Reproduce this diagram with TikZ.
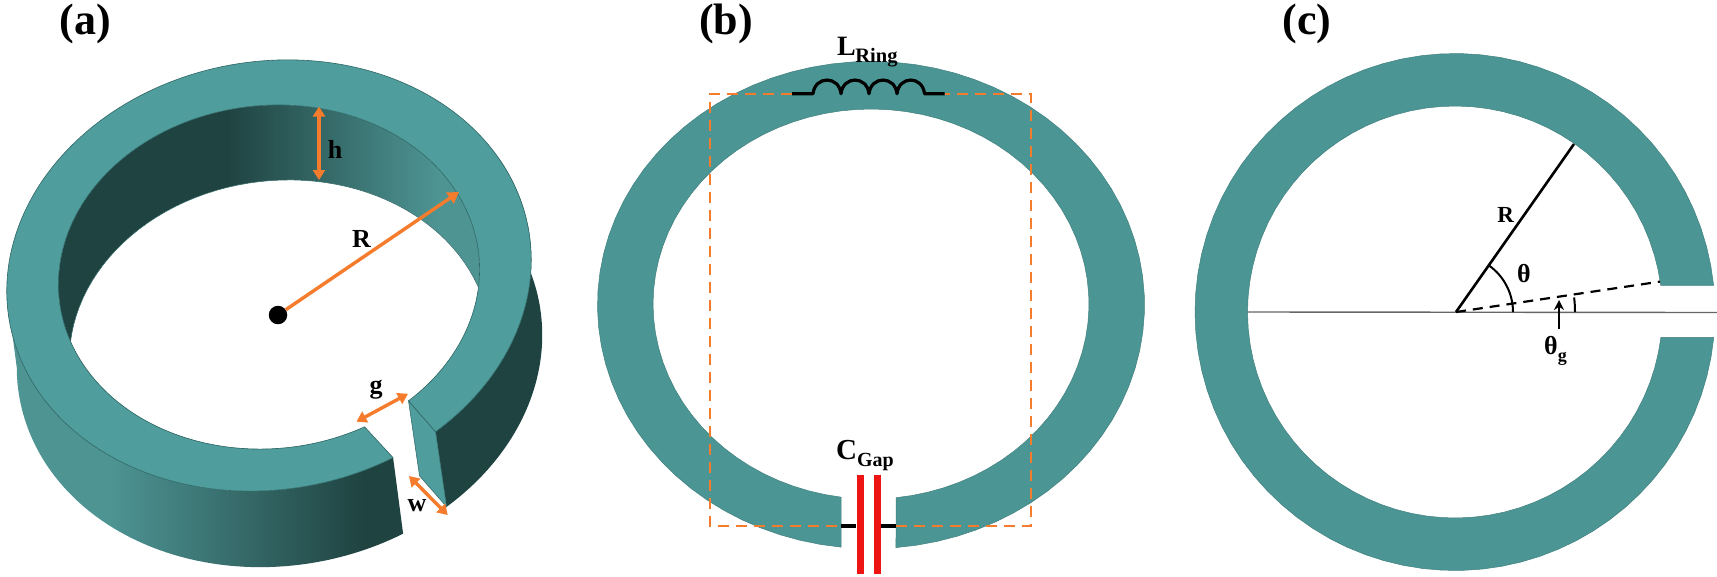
\documentclass[tikz,border=0pt]{standalone}
\usepackage{fontspec}
\setmainfont{Liberation Serif}
\usetikzlibrary{arrows.meta}
\definecolor{teal1}{HTML}{4B9694}
\definecolor{teal2}{HTML}{4F9D9D}
\definecolor{tealedge}{HTML}{2F6665}
\definecolor{walld}{HTML}{1F4341}
\definecolor{walll}{HTML}{4D9493}
\definecolor{orng}{HTML}{F47C2C}
\definecolor{redp}{HTML}{EE1414}
\pgfdeclarehorizontalshading{frontwall}{100bp}{color(0bp)=(walll); color(38bp)=(walll); color(70bp)=(walld); color(100bp)=(walld)}
\pgfdeclarehorizontalshading{backwall}{100bp}{color(0bp)=(walld); color(45bp)=(walld); color(70bp)=(walll); color(100bp)=(walll)}
\tikzset{
  panel/.style={font=\bfseries\fontsize{44}{44}\selectfont,inner sep=0pt},
  lab/.style={font=\bfseries\fontsize{26}{26}\selectfont,inner sep=0pt,text=black},
  labs/.style={font=\bfseries\fontsize{23}{23}\selectfont,inner sep=0pt,text=black},
  ringfill/.style={fill=teal1,draw=teal1!85!black,line width=0.5pt,line join=round},
  dim/.style={draw=orng,line width=3.4pt,{Triangle[length=10pt,width=12pt]}-{Triangle[length=10pt,width=12pt]}},
  wire/.style={draw=black,line width=3.2pt},
  dashbox/.style={draw=orng,line width=2.4pt,dash pattern=on 11pt off 7pt},
  plate/.style={fill=redp,draw=none,minimum width=7pt,minimum height=99pt,inner sep=0pt},
  facet/.style={samples=81,variable=\x}
}
\begin{document}
\begin{tikzpicture}[x=1pt,y=-1pt,
  declare function={
    oX(\t)=269+263.6*cos(\t)*cos(10)+214*sin(\t)*sin(10);
    oY(\t)=275.5-263.6*cos(\t)*sin(10)+214*sin(\t)*cos(10);
    iX(\t)=269+211*cos(\t)*cos(6)+171.6*sin(\t)*sin(6);
    iY(\t)=277-211*cos(\t)*sin(6)+171.6*sin(\t)*cos(6);
    bOX(\t)=871+273.5*cos(\t); bOY(\t)=305+243.6*sin(\t);
    bIX(\t)=871+218*cos(\t);   bIY(\t)=304+195*sin(\t);
    cOX(\t)=1455+260*cos(\t);  cOY(\t)=312+258.5*sin(\t);
    cIX(\t)=1455+207.5*cos(\t); cIY(\t)=312+206*sin(\t);
  }]
\useasboundingbox (0,0) rectangle (1717,576);
\fill[white] (0,0) rectangle (1717,576);

%% ---------- (a)
\node[panel] (pa) at (85,24) {(a)};
% inner back wall
\path[shade,shading=backwall] plot[samples=120,domain=0:360,variable=\x] ({iX(\x)},{iY(\x)}) -- cycle;
\begin{scope}
  \clip plot[samples=120,domain=0:360,variable=\x] ({iX(\x)},{iY(\x)}) -- cycle;
  \fill[white,draw=tealedge,line width=0.5pt] plot[samples=120,domain=0:360,variable=\x] ({iX(\x)+11},{iY(\x)+75}) -- cycle;
\end{scope}
% clean the hairline left along the hidden part of the inner edge, across the gap
\draw[white,line width=2pt] plot[samples=40,domain=40:85,variable=\x] ({iX(\x)},{iY(\x)});
% outer walls
\path[shade,shading=frontwall] plot[samples=80,domain=69.9:188,variable=\x] ({oX(\x)},{oY(\x)})
   -- plot[samples=80,domain=188:69.9,variable=\x] ({oX(\x)+10},{oY(\x)+76}) -- cycle;
\fill[walld] plot[samples=60,domain=-20:58.7,variable=\x] ({oX(\x)},{oY(\x)})
   -- plot[samples=60,domain=58.7:-20,variable=\x] ({oX(\x)+11},{oY(\x)+75}) -- cycle;
% cut face
\fill[teal2,draw=tealedge,line width=0.5pt]
  ({iX(53.4)},{iY(53.4)}) -- ({oX(58.7)},{oY(58.7)}) -- ({oX(58.7)+11},{oY(58.7)+75}) -- ({iX(53.4)+11},{iY(53.4)+75}) -- cycle;
% top face
\fill[teal2,draw=tealedge,line width=0.6pt,line join=round]
  plot[samples=200,domain=58.7:-290.1,variable=\x] ({oX(\x)},{oY(\x)})
  -- plot[samples=200,domain=-292.1:53.4,variable=\x] ({iX(\x)},{iY(\x)}) -- cycle;
% dimensions
\coordinate (hA) at (319,106.5); \coordinate (hB) at (319,180);
\coordinate (rB) at (459,192);
\coordinate (gA) at (356.4,421.7); \coordinate (gB) at (408,393.8);
\coordinate (wA) at (409,476); \coordinate (wB) at (447.7,515);
\node[circle,fill=black,minimum size=18.5pt,inner sep=0pt] (dot) at (278,315) {};
\draw[dim] (hA) -- (hB);
\draw[draw=orng,line width=3.4pt,-{Triangle[length=11pt,width=13pt]}] (dot) -- (rB);
\draw[dim] (gA) -- (gB);
\draw[dim] (wA) -- (wB);
\node[lab] (lh) at (335,149) {h};
\node[lab] (lr) at (361.5,239) {R};
\node[lab] (lg) at (376,390) {g};
\node[lab] (lw) at (417,506) {w};

%% ---------- (b)
\node[panel] (pb) at (726,24) {(b)};
\path[ringfill] plot[facet,domain=96.3:444.76] ({bOX(\x)},{bOY(\x)})
  -- plot[facet,domain=443.4:97.9] ({bIX(\x)},{bIY(\x)}) -- cycle;
\coordinate (iL) at (792,93.7); \coordinate (iA) at (813,93.7);
\coordinate (iR) at (944.5,93.7); \coordinate (iB) at (924.5,93.7);
\coordinate (cL) at (841,526); \coordinate (cR) at (896,526);
\coordinate (tl) at (710,93.7); \coordinate (bl) at (710,526);
\coordinate (tr) at (1031,93.7); \coordinate (br) at (1031,526);
\draw[dashbox] (iL) -- (tl) -- (bl) -- (cL);
\draw[dashbox] (cR) -- (br) -- (tr) -- (iR);
\draw[wire,line join=round] (iL) -- (iA)
  .. controls (815,75.5) and (839,75.5) .. (841,93.7)
  .. controls (843,75.5) and (867,75.5) .. (869,93.7)
  .. controls (871,75.5) and (895,75.5) .. (897,93.7)
  .. controls (899,75.5) and (922.5,75.5) .. (iB) -- (iR);
\node[plate] (p1) at (860,524.5) {};
\node[plate] (p2) at (877,524.5) {};
\draw[wire] (cL) -- (cL -| p1.west);
\draw[wire] (cR -| p2.east) -- (cR);
\node[anchor=base west,inner sep=0pt,font=\bfseries\fontsize{28}{28}\selectfont] (ll) at (837,55) {L\kern-0.5pt{\fontsize{20.5}{20.5}\selectfont\raisebox{-7pt}{Ring}}};
\node[anchor=base west,inner sep=0pt,font=\bfseries\fontsize{29}{29}\selectfont] (lc) at (836,459) {C{\fontsize{20}{20}\selectfont\raisebox{-7pt}{Gap}}};

%% ---------- (c)
\node[panel] (pc) at (1307,24) {(c)};
\path[ringfill] plot[facet,domain=5.64:354.07] ({cOX(\x)},{cOY(\x)})
  -- plot[facet,domain=352.55:7.08] ({cIX(\x)},{cIY(\x)}) -- cycle;
\coordinate (o) at (1456,312);
\coordinate (lineL) at (1247.5,312); \coordinate (lineR) at (1717,312.5);
\coordinate (rEnd) at (1574,144);
\coordinate (dEnd) at (1660,281.6);
\draw[draw=black!60,line width=1.4pt] (lineL) -- (lineR);
\draw[draw=black,line width=2.6pt] (o) -- (rEnd);
\draw[draw=black,line width=2.2pt,dash pattern=on 10pt off 7pt] (o) -- (dEnd);
\coordinate (a1) at (1513,312);
\draw[draw=black,line width=2pt] (a1) arc[start angle=0,end angle=55,radius=57pt];
\coordinate (a2) at (1575,312);
\draw[draw=black,line width=2pt] (a2) arc[start angle=0,end angle=7,radius=119pt];
\coordinate (upA) at (1559,329); \coordinate (upB) at (1559,300);
\draw[draw=black,line width=2.2pt,-{Stealth[length=10pt,width=10pt]}] (upA) -- (upB);
\node[labs] (lR) at (1505.6,215) {R};
\node[lab] (lt) at (1524,274) {θ};
\node[anchor=base west,inner sep=0pt,font=\bfseries\fontsize{26}{26}\selectfont] (ltg) at (1544,354) {θ{\fontsize{18}{18}\selectfont\raisebox{-7pt}{g}}};
\end{tikzpicture}
\end{document}
